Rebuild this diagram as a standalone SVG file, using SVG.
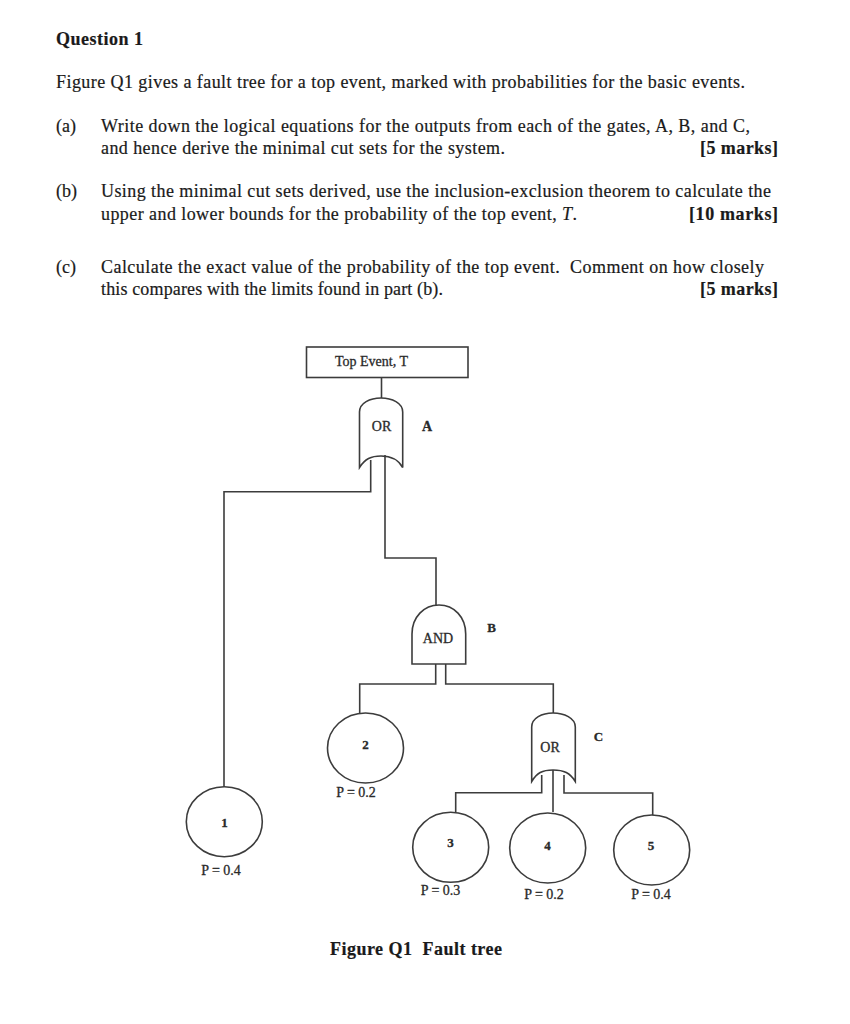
<svg xmlns="http://www.w3.org/2000/svg" width="850" height="1024" viewBox="0 0 850 1024">
<style>
.t{font-family:"Liberation Serif","Times New Roman",serif;font-size:18px;fill:#1a1a1a;stroke:#1a1a1a;stroke-width:.2;white-space:pre}
.b{font-weight:bold}
.l{font-family:"Liberation Serif","Times New Roman",serif;font-size:14px;fill:#2a2a2a;text-anchor:middle;stroke:#2a2a2a;stroke-width:.3}
.n{font-size:13px;font-weight:bold}
.s{fill:#fff;stroke:#3c3c3c;stroke-width:1.6}
.c{fill:none;stroke:#3c3c3c;stroke-width:1.6}
</style>
<rect width="850" height="1024" fill="#fff"/>
<g id="question-text">
<text class="t b" x="56" y="45" textLength="87">Question 1</text>
<text class="t" x="56" y="88" textLength="689">Figure Q1 gives a fault tree for a top event, marked with probabilities for the basic events.</text>
<text class="t" x="56" y="132" textLength="20">(a)</text>
<text class="t" x="101" y="132" textLength="649">Write down the logical equations for the outputs from each of the gates, A, B, and C,</text>
<text class="t" x="101" y="154" textLength="404">and hence derive the minimal cut sets for the system.</text>
<text class="t b" x="700" y="154" textLength="78">[5 marks]</text>
<text class="t" x="56" y="197" textLength="21">(b)</text>
<text class="t" x="101" y="197" textLength="670">Using the minimal cut sets derived, use the inclusion-exclusion theorem to calculate the</text>
<text class="t" x="101" y="220" textLength="476">upper and lower bounds for the probability of the top event, <tspan font-style="italic">T</tspan>.</text>
<text class="t b" x="689" y="220" textLength="89">[10 marks]</text>
<text class="t" x="56" y="273" textLength="20">(c)</text>
<text class="t" x="101" y="273" textLength="663">Calculate the exact value of the probability of the top event.  Comment on how closely</text>
<text class="t" x="101" y="295" textLength="342">this compares with the limits found in part (b).</text>
<text class="t b" x="700" y="295" textLength="78">[5 marks]</text>
</g>
<g id="connectors" class="c">
<path d="M381.5 377.5V398"/>
<path d="M370.7 460V491.7H224V787"/>
<path d="M385 455V558H436V605"/>
<path d="M435.7 664V684H359.7V714"/>
<path d="M445.7 664V684H553.3V713"/>
<path d="M541.7 775V792.7H455.7V812"/>
<path d="M553 770V812"/>
<path d="M564 775V793H652.7V815"/>
</g>
<g id="top-event">
<rect class="s" x="306.5" y="347" width="161.5" height="30.5"/>
<text class="l" x="371.5" y="366">Top Event, T</text>
</g>
<g id="gate-a">
<path class="c" d="M359.5 467.5V412C359.5 403 370 398 381 398S402.7 403 402.7 412V467.5C398 459 391 456 381 456S365 459 359.5 467.5Z"/>
<text class="l" x="381.5" y="431">OR</text>
<text class="l b" x="427" y="431">A</text>
</g>
<g id="gate-b">
<path class="s" d="M412 664V634C412 617 424 605 439 605S465.7 617 465.7 634V664Z"/>
<text class="l" x="438" y="643">AND</text>
<text class="l n" x="491.5" y="632">B</text>
</g>
<g id="gate-c">
<path class="c" d="M531.7 781.5V727C531.7 718 542 713 553 713S575.3 718 575.3 727V781.5C570 773 564 770 553 770S537 773 531.7 781.5Z"/>
<text class="l" x="550" y="752">OR</text>
<text class="l n" x="598.5" y="741">C</text>
</g>
<g id="event-1">
<ellipse class="s" cx="224.3" cy="821.7" rx="38" ry="35"/>
<text class="l n" x="224.5" y="827">1</text>
<text class="l" x="221" y="875">P = 0.4</text>
</g>
<g id="event-2">
<ellipse class="s" cx="365.5" cy="748" rx="38" ry="35"/>
<text class="l n" x="365.5" y="749">2</text>
<text class="l" x="356" y="797">P = 0.2</text>
</g>
<g id="event-3">
<ellipse class="s" cx="450.7" cy="847.3" rx="38" ry="35"/>
<text class="l n" x="450.5" y="847">3</text>
<text class="l" x="440.5" y="895">P = 0.3</text>
</g>
<g id="event-4">
<ellipse class="s" cx="547.7" cy="848" rx="38" ry="35"/>
<text class="l n" x="547.5" y="850">4</text>
<text class="l" x="544" y="899">P = 0.2</text>
</g>
<g id="event-5">
<ellipse class="s" cx="651.7" cy="850" rx="38" ry="35"/>
<text class="l n" x="651" y="850">5</text>
<text class="l" x="651" y="899">P = 0.4</text>
</g>
<text id="caption" class="t b" x="330" y="955" textLength="172">Figure Q1  Fault tree</text>
</svg>
